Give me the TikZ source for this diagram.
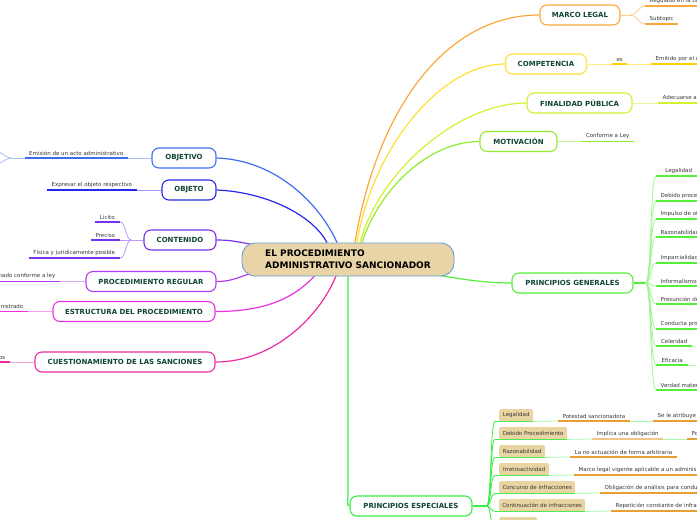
\documentclass[tikz,border=0pt]{standalone}
\usepackage{fontspec}
\setmainfont{DejaVu Sans}
\usetikzlibrary{backgrounds}

% colours of the map
\definecolor{topictext}{RGB}{16,70,55}
\definecolor{leaftext}{RGB}{55,55,55}
\definecolor{rootfill}{RGB}{232,212,166}
\definecolor{rootline}{RGB}{100,160,215}
\definecolor{tanfill}{RGB}{233,212,164}
\definecolor{cOrange}{RGB}{250,168,60}
\definecolor{subOrange}{RGB}{232,160,50}
\definecolor{cYellow}{RGB}{255,224,50}
\definecolor{cGold}{RGB}{255,208,0}
\definecolor{cLime}{RGB}{212,240,50}
\definecolor{cLight}{RGB}{145,236,45}
\definecolor{cGreen}{RGB}{85,238,60}
\definecolor{cGreenB}{RGB}{60,236,70}
\definecolor{cBlue}{RGB}{60,110,240}
\definecolor{cBlueB}{RGB}{40,40,230}
\definecolor{cPurple}{RGB}{120,50,235}
\definecolor{cViolet}{RGB}{180,60,240}
\definecolor{cMagenta}{RGB}{235,50,225}
\definecolor{cPink}{RGB}{235,45,160}

\tikzset{
  root/.style={draw=rootline, fill=rootfill, rounded corners=13pt, line width=0.9pt,
    align=left, text=black, font=\fontsize{9}{12}\selectfont\bfseries},
  topic/.style={draw=#1, fill=white, rounded corners=7pt, line width=1.1pt,
    minimum height=20pt, inner sep=0pt, text=topictext, font=\fontsize{7}{8}\selectfont\bfseries},
  leaf/.style={inner xsep=4.5pt, inner ysep=2.5pt, text=leaftext, font=\fontsize{5.5}{6.5}\selectfont,
    append after command={(\tikzlastnode.south west) edge[uline, draw=#1] (\tikzlastnode.south east)}},
  tanbox/.style={fill=tanfill, rounded corners=1.5pt, minimum height=12pt, inner sep=0pt,
    anchor=north west, text=leaftext, font=\fontsize{5.5}{6.5}\selectfont},
  branch/.style={line width=1.2pt},
  uline/.style={line width=1.3pt},
  faint/.style={line width=0.8pt},
}

\begin{document}
\begin{tikzpicture}[x=1pt, y=-1pt]
    \useasboundingbox (0,0) rectangle (697,520);
    \clip (0,0) rectangle (697,520);

    \node[root, minimum width=212pt, minimum height=33pt] (root) at (348,259.5) {EL PROCEDIMIENTO\\ADMINISTRATIVO SANCIONADOR};

    % topics on the right
    \node[topic=cOrange, minimum width=80pt] (marco) at (580,15) {MARCO LEGAL};
    \node[topic=cYellow, minimum width=81pt] (compe) at (546,64) {COMPETENCIA};
    \node[topic=cLime, minimum width=105pt] (final) at (579.5,103) {FINALIDAD PÚBLICA};
    \node[topic=cLight, minimum width=77pt] (motiv) at (518.5,141.5) {MOTIVACIÓN};
    \node[topic=cGreen, minimum width=121pt] (pgen) at (572.5,283) {PRINCIPIOS GENERALES};
    \node[topic=cGreenB, minimum width=122pt] (pesp) at (411,506) {PRINCIPIOS ESPECIALES};

    % topics on the left
    \node[topic=cBlue, minimum width=64pt] (objetivo) at (184,158) {OBJETIVO};
    \node[topic=cBlueB, minimum width=54pt] (objeto) at (189,190) {OBJETO};
    \node[topic=cPurple, minimum width=72pt] (conte) at (180,240) {CONTENIDO};
    \node[topic=cViolet, minimum width=130pt] (procreg) at (151,281.5) {PROCEDIMIENTO REGULAR};
    \node[topic=cMagenta, minimum width=162pt] (estruc) at (134,311.5) {ESTRUCTURA DEL PROCEDIMIENTO};
    \node[topic=cPink, minimum width=180pt] (cuest) at (125,362) {CUESTIONAMIENTO DE LAS SANCIONES};

    % leaves on the right
    \node[leaf=cOrange, anchor=south west, minimum width=60pt] (ml1) at (645,6) {Regulado en la Ley 27444};
    \node[leaf=cOrange, anchor=south west, minimum width=33pt] (ml2) at (645,24) {Subtopic};
    \node[leaf=cGold, anchor=south west, minimum width=15pt, inner xsep=2pt] (es) at (612,64) {es};
    \node[leaf=cGold, anchor=south west, minimum width=50pt] (emit) at (651,64) {Emitido por el órgano competente};
    \node[leaf=cLime, anchor=south west, minimum width=45pt] (adec) at (658,103) {Adecuarse a las finalidades de interés público};
    \node[leaf=cLight, anchor=south west, minimum width=53pt] (conf) at (581,141.5) {Conforme a Ley};

    \node[leaf=cGreen, anchor=south west, minimum width=45pt] (g1) at (656,176) {Legalidad};
    \node[leaf=cGreen, anchor=south west, minimum width=45pt] (g2) at (656,201) {Debido procedimiento};
    \node[leaf=cGreen, anchor=south west, minimum width=45pt] (g3) at (656,219) {Impulso de oficio};
    \node[leaf=cGreen, anchor=south west, minimum width=45pt] (g4) at (656,237) {Razonabilidad};
    \node[leaf=cGreen, anchor=south west, minimum width=45pt] (g5) at (656,263) {Imparcialidad};
    \node[leaf=cGreen, anchor=south west, minimum width=45pt] (g6) at (656,286) {Informalismo};
    \node[leaf=cGreen, anchor=south west, minimum width=45pt] (g7) at (656,304) {Presunción de veracidad};
    \node[leaf=cGreen, anchor=south west, minimum width=45pt] (g8) at (656,329) {Conducta procedimental};
    \node[leaf=cGreen, anchor=south west, minimum width=36pt] (g9) at (656,346) {Celeridad};
    \node[leaf=cGreen, anchor=south west, minimum width=32pt] (g10) at (656,365) {Eficacia};
    \node[leaf=cGreen, anchor=south west, minimum width=45pt] (g11) at (656,390) {Verdad material};

    % principios especiales
    \node[tanbox, minimum width=34pt] (lega) at (499,409) {Legalidad};
    \node[tanbox, minimum width=68pt] (debi) at (499,427) {Debido Procedimiento};
    \node[tanbox, minimum width=46pt] (razo) at (499,445) {Razonabilidad};
    \node[tanbox, minimum width=50pt] (irre) at (499,463) {Irretroactividad};
    \node[tanbox, minimum width=76pt] (conc) at (499,481) {Concurso de infracciones};
    \node[tanbox, minimum width=86pt] (cont) at (499,499) {Continuación de infracciones};
    \node[tanbox, minimum width=38pt] (caus) at (499,517) {Causalidad};

    \node[leaf=subOrange, anchor=south west, minimum width=70pt] (pe1) at (558,421) {Potestad sancionadora};
    \node[leaf=subOrange, anchor=south west, minimum width=50pt] (pe1b) at (653,421) {Se le atribuye a las entidades};
    \node[leaf=subOrange!60, anchor=south west, minimum width=71pt] (pe2) at (592,439) {Implica una obligación};
    \node[leaf=subOrange, anchor=south west, minimum width=20pt] (pe2b) at (687,439) {Por parte de la entidad};
    \node[leaf=subOrange, anchor=south west, minimum width=106pt] (pe3) at (570,457) {La no actuación de forma arbitraria};
    \node[leaf=subOrange, anchor=south west, minimum width=130pt] (pe4) at (574,475) {Marco legal vigente aplicable a un administrado};
    \node[leaf=subOrange, anchor=south west, minimum width=100pt] (pe5) at (600,493) {Obligación de análisis para conductas con varias infracciones};
    \node[leaf=subOrange, anchor=south west, minimum width=90pt] (pe6) at (611,511) {Repetición constante de infracciones};

    % leaves on the left
    \node[leaf=cBlue, anchor=south east, minimum width=103pt] (emis) at (128,158) {Emisión de un acto administrativo};
    \node[leaf=cBlueB, anchor=south east, minimum width=90pt] (expr) at (137,190) {Expresar el objeto respectivo};
    \node[leaf=cPurple, anchor=south east, minimum width=25pt] (lici) at (120,222) {Licito};
    \node[leaf=cPurple, anchor=south east, minimum width=29pt] (prec) at (120,240) {Preciso};
    \node[leaf=cPurple, anchor=south east, minimum width=91pt] (fisi) at (120,258) {Física y jurídicamente posible};
    \node[leaf=cViolet, anchor=south east] (orde) at (60,281.5) {Ordenado conforme a ley};
    \node[leaf=cMagenta, anchor=south east] (dere) at (28,311.5) {Derechos del administrado};
    \node[leaf=cPink, anchor=south east] (recu) at (10,362) {Recursos administrativos};
    \coordinate (obA) at (-8,149);
    \coordinate (obB) at (-8,166);

    \begin{scope}[on background layer]
    % branches from the centre
    \draw[branch, cOrange] ([xshift=7pt]root.north) .. controls +(20,-123) and +(-100,0) .. (marco.west);
    \draw[branch, cYellow] ([xshift=9pt]root.north) .. controls +(15,-93) and +(-65,0) .. (compe.west);
    \draw[branch, cLime] ([xshift=12pt]root.north) .. controls +(20,-73) and +(-67,0) .. (final.west);
    \draw[branch, cLight] ([xshift=14pt]root.north) .. controls +(18,-55) and +(-50,0) .. (motiv.west);
    \draw[branch, cGreen] ([xshift=80pt,yshift=3pt]root.south) .. controls +(30,5) and +(-30,0) .. (pgen.west);
    \draw[branch, cGreenB] ([yshift=4pt]root.south) -- ++(0,222) .. controls +(0,6) and +(-3,0) .. (pesp.west);
    \draw[branch, cBlue] (objetivo.east) .. controls +(60,2) and +(-17,-38) .. ([xshift=-11pt]root.north);
    \draw[branch, cBlueB] (objeto.east) .. controls +(49,2) and +(-15,-28) .. ([xshift=-21pt]root.north);
    \draw[branch, cPurple] (conte.east) .. controls +(20,0) and +(-20,-2) .. ([xshift=20pt,yshift=-3pt]root.north west);
    \draw[branch, cViolet] (procreg.east) .. controls +(18,0) and +(-15,3) .. ([xshift=14pt,yshift=4pt]root.south west);
    \draw[branch, cMagenta] (estruc.east) .. controls +(55,0) and +(-20,22) .. ([xshift=-31pt,yshift=3pt]root.south);
    \draw[branch, cPink] (cuest.east) .. controls +(60,0) and +(-15,40) .. ([xshift=-11pt,yshift=3pt]root.south);

    % right side connectors
    \draw[faint, cOrange!60] (marco.east) -- ++(10,0) coordinate (mlfork);
    \draw[faint, cOrange!60] (mlfork) .. controls +(6,0) and +(-6,0) .. (ml1.south west);
    \draw[faint, cOrange!60] (mlfork) .. controls +(6,0) and +(-6,0) .. (ml2.south west);
    \draw[faint, cYellow!60] (compe.east) -- (es.south west);
    \draw[faint, cYellow!60] (es.south east) -- (emit.south west);
    \draw[faint, cLime!50] (final.east) -- (adec.south west);
    \draw[faint, cLight!50] (motiv.east) -- (conf.south west);

    \draw[branch, cGreen] (pgen.east) -- ++(12,0) coordinate (pgfork);
    \draw[faint, cGreen!55] (pgfork) .. controls +(6,0) and +(-6,0) .. (g1.south west);
    \draw[faint, cGreen!55] (pgfork) .. controls +(6,0) and +(-6,0) .. (g2.south west);
    \draw[faint, cGreen!55] (pgfork) .. controls +(6,0) and +(-6,0) .. (g3.south west);
    \draw[faint, cGreen!55] (pgfork) .. controls +(6,0) and +(-6,0) .. (g4.south west);
    \draw[faint, cGreen!55] (pgfork) .. controls +(6,0) and +(-6,0) .. (g5.south west);
    \draw[faint, cGreen!55] (pgfork) .. controls +(6,0) and +(-6,0) .. (g6.south west);
    \draw[faint, cGreen!55] (pgfork) .. controls +(6,0) and +(-6,0) .. (g7.south west);
    \draw[faint, cGreen!55] (pgfork) .. controls +(6,0) and +(-6,0) .. (g8.south west);
    \draw[faint, cGreen!55] (pgfork) .. controls +(6,0) and +(-6,0) .. (g9.south west);
    \draw[faint, cGreen!55] (pgfork) .. controls +(6,0) and +(-6,0) .. (g10.south west);
    \draw[faint, cGreen!55] (pgfork) .. controls +(6,0) and +(-6,0) .. (g11.south west);
    \draw[faint, cGreen!40] (g9.south east) -- ++(20,0);
    \draw[faint, cGreen!40] (g10.south east) -- ++(20,0);

    % principios especiales connectors
    \draw[branch, cGreenB] (pesp.east) -- ++(14,0) coordinate (pefork);
    \draw[faint, cGreenB] (pefork) .. controls +(5,0) and +(-5,0) .. ([xshift=-4pt]lega.south west) -- (lega.south east);
    \draw[faint, cGreenB] (pefork) .. controls +(5,0) and +(-5,0) .. ([xshift=-4pt]debi.south west) -- (debi.south east);
    \draw[faint, cGreenB] (pefork) .. controls +(5,0) and +(-5,0) .. ([xshift=-4pt]razo.south west) -- (razo.south east);
    \draw[faint, cGreenB] (pefork) .. controls +(5,0) and +(-5,0) .. ([xshift=-4pt]irre.south west) -- (irre.south east);
    \draw[faint, cGreenB] (pefork) .. controls +(5,0) and +(-5,0) .. ([xshift=-4pt]conc.south west) -- (conc.south east);
    \draw[faint, cGreenB] (pefork) .. controls +(5,0) and +(-5,0) .. ([xshift=-4pt]cont.south west) -- (cont.south east);
    \draw[faint, cGreenB] (pefork) .. controls +(5,0) and +(-5,0) .. ([xshift=-4pt]caus.south west) -- (caus.south east);
    \draw[faint, cGreenB!45] (lega.south east) -- (pe1.south west);
    \draw[faint, cGreenB!45] (pe1.south east) -- (pe1b.south west);
    \draw[faint, cGreenB!45] (debi.south east) -- (pe2.south west);
    \draw[faint, cGreenB!45] (pe2.south east) -- (pe2b.south west);
    \draw[faint, cGreenB!45] (razo.south east) -- (pe3.south west);
    \draw[faint, cGreenB!45] (irre.south east) -- (pe4.south west);
    \draw[faint, cGreenB!45] (conc.south east) -- (pe5.south west);
    \draw[faint, cGreenB!45] (cont.south east) -- (pe6.south west);

    % left side connectors
    \draw[faint, cBlue!45] (objetivo.west) -- (emis.south east);
    \draw[faint, cBlue!45] (emis.south west) -- ++(-13,0) coordinate (obfork);
    \draw[faint, cBlue!45] (obfork) .. controls +(-6,0) and +(6,0) .. (obA);
    \draw[faint, cBlue!45] (obfork) .. controls +(-6,0) and +(6,0) .. (obB);
    \draw[faint, cBlueB!45] (objeto.west) -- (expr.south east);
    \draw[faint, cPurple!50] (conte.west) -- ++(-12,0) coordinate (cofork);
    \draw[faint, cPurple!50] (cofork) .. controls +(-6,0) and +(6,0) .. (lici.south east);
    \draw[faint, cPurple!50] (cofork) -- (prec.south east);
    \draw[faint, cPurple!50] (cofork) .. controls +(-6,0) and +(6,0) .. (fisi.south east);
    \draw[faint, cViolet!45] (procreg.west) -- (orde.south east);
    \draw[faint, cMagenta!45] (estruc.west) -- (dere.south east);
    \draw[faint, cPink!45] (cuest.west) -- (recu.south east);
    \end{scope}
\end{tikzpicture}
\end{document}
